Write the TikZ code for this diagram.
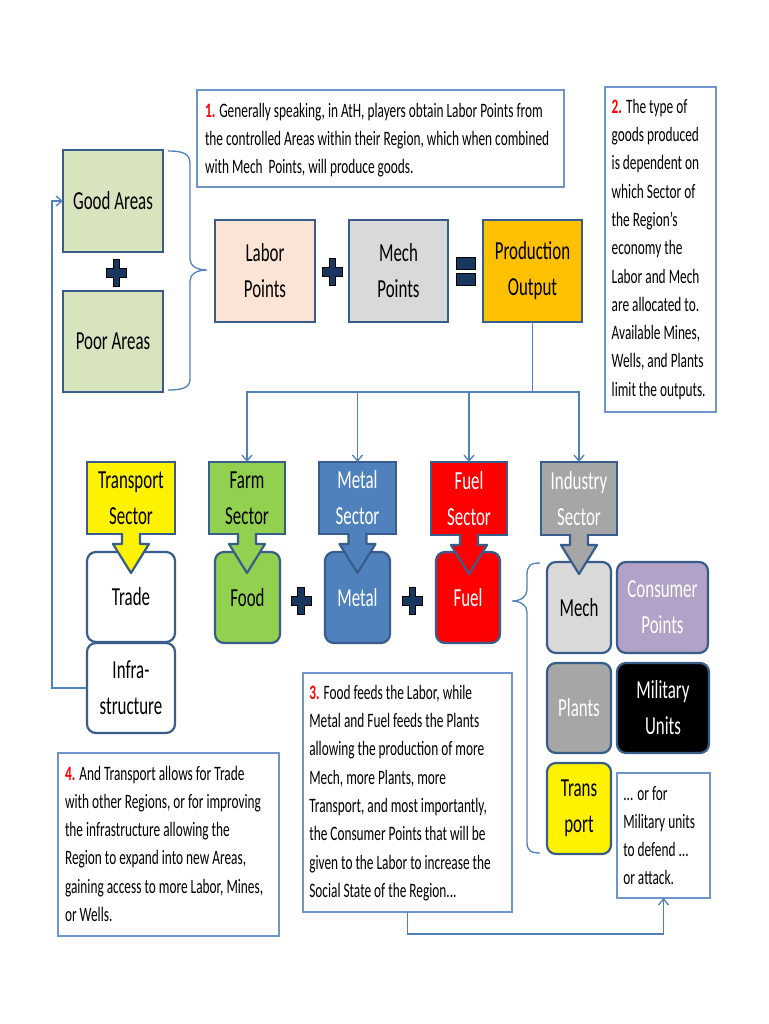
\documentclass[tikz,border=0pt]{standalone}
\usepackage{fontspec}
\setmainfont{Carlito}[FakeStretch=0.65]
\usetikzlibrary{arrows.meta}
\definecolor{edge}{HTML}{385D8A}
\definecolor{linkblue}{HTML}{4F81BD}
\definecolor{noteblue}{HTML}{6F95CB}
\definecolor{areagreen}{HTML}{D7E4BD}
\definecolor{laborpeach}{HTML}{FBE3D6}
\definecolor{lightgray}{HTML}{D9D9D9}
\definecolor{prodorange}{HTML}{FFC000}
\definecolor{farmgreen}{HTML}{92D050}
\definecolor{metalblue}{HTML}{4F81BD}
\definecolor{fuelred}{HTML}{FF0000}
\definecolor{indgray}{HTML}{A6A6A6}
\definecolor{consumer}{HTML}{B3A2C7}
\definecolor{navy}{HTML}{17375E}
\newcommand\bigfont{\fontsize{26}{36}\selectfont}
\newcommand\notefont{\fontsize{20.5}{28.3}\selectfont}
\newcommand\rednum[1]{\textcolor{red}{\textbf{#1}}}
\tikzset{
  box/.style={draw=edge, line width=2.2pt, inner sep=0pt, outer sep=0pt, align=center, font=\bigfont},
  rbox/.style={box, rounded corners=9pt},
  note/.style={draw=noteblue, line width=1.3pt, fill=white, inner sep=0pt, outer sep=0pt},
  notetext/.style={anchor=base west, inner sep=0pt, outer sep=0pt, font=\notefont},
  link/.style={draw=linkblue, line width=1.3pt},
  arr/.style={link, -{Straight Barb[length=6pt,width=10pt]}},
  pics/plussign/.style={code={
    \filldraw[fill=navy, draw=black, line width=0.8pt]
      (-3.2,-13.5) -- (3.2,-13.5) -- (3.2,-4.3) -- (10,-4.3) -- (10,4.3) -- (3.2,4.3)
      -- (3.2,13.5) -- (-3.2,13.5) -- (-3.2,4.3) -- (-10,4.3) -- (-10,-4.3) -- (-3.2,-4.3) -- cycle;
  }},
  pics/downarrow/.style={code={
    \fill[#1] (-9,-2) -- (9,-2) -- (9,10) -- (18,10) -- (0,39) -- (-18,10) -- (-9,10) -- cycle;
    \draw[edge, line width=2.2pt, line join=round] (-9,-1) -- (-9,10) -- (-18,10) -- (0,39) -- (18,10) -- (9,10) -- (9,-1);
  }}
}
\begin{document}
\begin{tikzpicture}[x=1pt,y=-1pt]
\useasboundingbox[fill=white] (0,0) rectangle (768,1024);

% top row
\node[box, fill=areagreen, minimum width=100, minimum height=102] (good) at (113,201) {Good Areas};
\node[box, fill=areagreen, minimum width=100, minimum height=101] (poor) at (113,341.5) {Poor Areas};
\node[box, fill=laborpeach, minimum width=100, minimum height=102] (labor) at (265,271) {Labor\\Points};
\node[box, fill=lightgray, minimum width=99, minimum height=102] (mechp) at (398.5,271) {Mech\\Points};
\node[box, fill=prodorange, minimum width=99, minimum height=102] (prod) at (532.5,271) {Production\\Output};

\pic at (116.5,273) {plussign};
\pic at (332.5,272) {plussign};
\filldraw[fill=navy, draw=black, line width=0.8pt] (456,257) rectangle (475,269.5);
\filldraw[fill=navy, draw=black, line width=0.8pt] (456,273) rectangle (475,285.5);

% brace left
\draw[link] (168,151) .. controls (184,151) and (190,154) .. (190,164) -- (190,259)
  .. controls (190,266) and (197,270) .. (207,270)
  .. controls (197,270) and (190,274) .. (190,281) -- (190,379)
  .. controls (190,387) and (184,390) .. (168,390);

% notes top
\node[note, minimum width=367, minimum height=97] (n1) at (380.5,138.5) {};
\node[notetext] (t1) at (205,117.3) {\parbox[t]{350pt}{\raggedright
\rednum{1.} Generally speaking, in AtH, players obtain Labor Points from\\
the controlled Areas within their Region, which when combined\\
with Mech\ \ Points, will produce goods.}};

\node[note, minimum width=111, minimum height=325] (n2) at (660.5,249.5) {};
\node[notetext] (t2) at (611.7,113.3) {\parbox[t]{100pt}{\raggedright
\rednum{2.} The type of\\
goods produced\\
is dependent on\\
which Sector of\\
the Region’s\\
economy the\\
Labor and Mech\\
are allocated to.\\
Available Mines,\\
Wells, and Plants\\
limit the outputs.}};

% sectors
\node[box, fill=yellow, minimum width=88, minimum height=72] (trs) at (131,498) {Transport\\Sector};
\node[box, fill=farmgreen, minimum width=76, minimum height=72] (farm) at (247,498) {Farm\\Sector};
\node[box, fill=metalblue, text=white, minimum width=77, minimum height=72] (mets) at (357.5,498) {Metal\\Sector};
\node[box, fill=fuelred, text=white, minimum width=76, minimum height=73] (fuels) at (469,498.5) {Fuel\\Sector};
\node[box, fill=indgray, text=white, minimum width=76, minimum height=73] (ind) at (579,498.5) {Industry\\Sector};

% distribution
\coordinate (bus) at (532.5,392);
\draw[link] (prod.south) -- (bus);
\draw[arr] (bus) -| (farm.north);
\draw[arr] (bus) -| (mets.north);
\draw[arr] (bus) -| (fuels.north);
\draw[arr] (bus) -| (ind.north);

% products
\node[rbox, fill=white, minimum width=88, minimum height=90] (trade) at (131,597) {Trade};
\node[rbox, fill=white, minimum width=88, minimum height=90] (infra) at (131,688) {Infra-\\structure};
\node[rbox, fill=farmgreen, minimum width=65, minimum height=91] (food) at (247.5,597.5) {Food};
\node[rbox, fill=metalblue, text=white, minimum width=65, minimum height=91] (metal) at (357.5,597.5) {Metal};
\node[rbox, fill=fuelred, text=white, minimum width=64, minimum height=91] (fuel) at (468,597.5) {Fuel};
\node[rbox, fill=lightgray, minimum width=64, minimum height=91] (mech) at (579,607.5) {Mech};
\node[rbox, fill=consumer, text=white, minimum width=91, minimum height=91] (cons) at (662.5,607.5) {Consumer\\Points};
\node[rbox, fill=indgray, text=white, minimum width=64, minimum height=90] (plants) at (579,708) {Plants};
\node[rbox, fill=black, text=white, minimum width=92, minimum height=90] (mil) at (663,708) {Military\\Units};
\node[rbox, fill=yellow, minimum width=64, minimum height=91] (tport) at (579,808.5) {Trans\\port};

\pic at (trs.south) {downarrow=yellow};
\pic at (farm.south) {downarrow=farmgreen};
\pic at (mets.south) {downarrow=metalblue};
\pic at (fuels.south) {downarrow=fuelred};
\pic at (ind.south) {downarrow=indgray};

\pic at (301,601) {plussign};
\pic at (412.5,601) {plussign};

% brace right
\draw[link] (540,563) .. controls (530,563) and (527,566) .. (527,575) -- (527,590)
  .. controls (527,597) and (520,601) .. (512,601)
  .. controls (520,601) and (527,605) .. (527,612) -- (527,842)
  .. controls (527,850) and (530,853) .. (540,853);

% feedback
\draw[arr] (infra.west) -- ++(-35,0) |- (good.west);

% bottom notes
\node[note, minimum width=209, minimum height=239] (n3) at (407.5,792.5) {};
\node[notetext] (t3) at (309.3,699.3) {\parbox[t]{200pt}{\raggedright
\rednum{3.} Food feeds the Labor, while\\
Metal and Fuel feeds the Plants\\
allowing the production of more\\
Mech, more Plants, more\\
Transport, and most importantly,\\
the Consumer Points that will be\\
given to the Labor to increase the\\
Social State of the Region...}};

\node[note, minimum width=221, minimum height=183] (n4) at (168.5,844.5) {};
\node[notetext] (t4) at (65,780) {\parbox[t]{212pt}{\raggedright
\rednum{4.} And Transport allows for Trade\\
with other Regions, or for improving\\
the infrastructure allowing the\\
Region to expand into new Areas,\\
gaining access to more Labor, Mines,\\
or Wells.}};

\node[note, minimum width=93, minimum height=125] (n5) at (663.5,835.5) {};
\node[notetext] (t5) at (623.3,800) {\parbox[t]{85pt}{\raggedright
... or for\\
Military units\\
to defend ...\\
or attack.}};

\draw[arr] (n3.south) -- ++(0,22) -| (n5.south);
\end{tikzpicture}
\end{document}
